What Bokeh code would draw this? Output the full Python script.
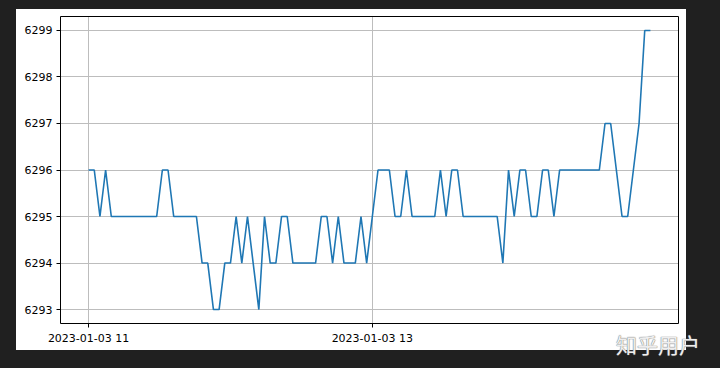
import pandas as pd
from bokeh.plotting import figure
from bokeh.layouts import column
from bokeh.models import Range1d, FixedTicker, LinearAxis, Div
from bokeh.embed import file_html
from bokeh.resources import INLINE

# ---- data ----
start_time = "2023-01-03 11:00:00"
step_seconds = 144
price = [
    6296, 6296, 6295, 6296, 6295, 6295, 6295, 6295, 6295, 6295,
    6295, 6295, 6295, 6296, 6296, 6295, 6295, 6295, 6295, 6295,
    6294, 6294, 6293, 6293, 6294, 6294, 6295, 6294, 6295, 6294,
    6293, 6295, 6294, 6294, 6295, 6295, 6294, 6294, 6294, 6294,
    6294, 6295, 6295, 6294, 6295, 6294, 6294, 6294, 6295, 6294,
    6295, 6296, 6296, 6296, 6295, 6295, 6296, 6295, 6295, 6295,
    6295, 6295, 6296, 6295, 6296, 6296, 6295, 6295, 6295, 6295,
    6295, 6295, 6295, 6294, 6296, 6295, 6296, 6296, 6295, 6295,
    6296, 6296, 6295, 6296, 6296, 6296, 6296, 6296, 6296, 6296,
    6296, 6297, 6297, 6296, 6295, 6295, 6296, 6297, 6299, 6299,
]
y_ticks = [6293, 6294, 6295, 6296, 6297, 6298, 6299]
x_tick_times = ["2023-01-03 11:00:00", "2023-01-03 13:00:00"]
x_tick_labels = ["2023-01-03 11", "2023-01-03 13"]
watermark = "知乎用户"

times = pd.date_range(start_time, periods=len(price), freq=f"{step_seconds}s")
t_ms = [t.value / 1e6 for t in times]
span = t_ms[-1] - t_ms[0]
tick_ms = [pd.Timestamp(t).value / 1e6 for t in x_tick_times]

ymin, ymax = min(price), max(price)
ypad = 0.05 * (ymax - ymin)

W, H = 720, 368
FL, FR, FT, FB = 60, 678, 16, 323   # frame edges (canvas px)

p = figure(
    width=W, height=H, x_axis_type="datetime",
    output_backend="svg", toolbar_location=None,
    x_range=Range1d(t_ms[0] - 0.05 * span, t_ms[-1] + 0.05 * span),
    y_range=Range1d(ymin - ypad, ymax + ypad),
    min_border_left=FL, min_border_right=W - FR,
    min_border_top=FT, min_border_bottom=H - FB,
    background_fill_color="white", border_fill_alpha=0.0,
    styles={"background": "linear-gradient(#ffffff, #ffffff) 16px 9px / 670px 341px no-repeat, #202020"},
)
p.outline_line_color = None

p.line(times, price, line_color="#1f77b4", line_width=1.6)

for ax in (p.xaxis[0], p.yaxis[0]):
    ax.axis_line_color = "black"
    ax.axis_line_width = 1
    ax.major_tick_out = 4
    ax.major_tick_in = 0
    ax.minor_tick_line_color = None
    ax.major_tick_line_color = "black"
    ax.major_label_text_font = "DejaVu Sans"
    ax.major_label_text_font_size = "11px"
    ax.major_label_text_color = "black"
    ax.major_label_standoff = 4

p.xaxis.ticker = FixedTicker(ticks=tick_ms)
p.xaxis.major_label_overrides = {k: v for k, v in zip(tick_ms, x_tick_labels)}
p.yaxis.ticker = FixedTicker(ticks=y_ticks)

# top and right spines
for loc in ("above", "right"):
    sp = LinearAxis(ticker=FixedTicker(ticks=[]), axis_line_color="black",
                    major_tick_line_color=None, minor_tick_line_color=None,
                    major_label_text_font_size="0px")
    p.add_layout(sp, loc)

p.xgrid.ticker = FixedTicker(ticks=tick_ms)
p.ygrid.ticker = FixedTicker(ticks=y_ticks)
for g in (p.xgrid[0], p.ygrid[0]):
    g.grid_line_color = "#bdbdbd"
    g.grid_line_width = 1

wm = Div(text=watermark, styles={
    "position": "absolute", "left": "611px", "top": "326px",
    "font-family": "Noto Sans CJK SC", "font-size": "21px",
    "line-height": "26px", "color": "#eeeeee",
    "text-shadow": "0 0 1px #777777, 0 0 1px #777777",
    "white-space": "nowrap", "z-index": "10",
})

layout = column(p, wm, styles={"position": "relative"})
open("out.html", "w").write(file_html(layout, INLINE))
